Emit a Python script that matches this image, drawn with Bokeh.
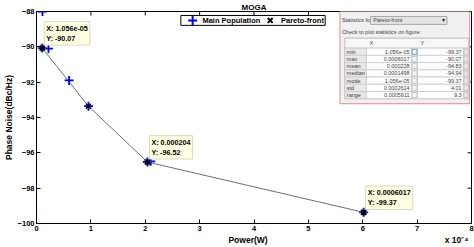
import numpy as np
from bokeh.plotting import figure
from bokeh.models import Label, BoxAnnotation, FixedTicker, Range1d
from bokeh.embed import file_html
from bokeh.resources import INLINE

# Final population of the optimiser: power (W) and phase noise (dBc/Hz)
pop_power = [1.1e-05, 1.056e-05, 2.2e-05, 6.0e-05, 9.56e-05, 2.04e-04, 2.1e-04, 6.017e-04]
pop_noise = [-88.0, -90.07, -90.1, -91.9, -93.36, -96.52, -96.48, -99.37]

# Non-dominated (Pareto-front) solutions
pareto_power = [1.056e-05, 9.56e-05, 2.04e-04, 6.017e-04]
pareto_noise = [-90.07, -93.36, -96.52, -99.37]

# Pareto points that carry a data tip
tip_index = [0, 2, 3]

# Axis ticks (power axis shown in units of 1e-4 W)
x_ticks = [0, 1, 2, 3, 4, 5, 6, 7, 8]
y_ticks = [-100, -98, -96, -94, -92, -90, -88]
x_scale = 1e4

# Statistics panel for the Pareto-front
stat_names = ["min", "max", "mean", "median", "mode", "std", "range"]
stat_x = ["1.056e-05", "0.0006017", "0.000228", "0.0001498", "1.056e-05", "0.0002614", "0.0005911"]
stat_y = ["-99.37", "-90.07", "-94.83", "-94.94", "-99.37", "4.01", "9.3"]

FONT = "Liberation Sans"
W, H = 474, 247

# frame geometry in page pixels (used to place the overlay widgets)
FL, FR, FT, FB = 28, 471, 11, 225
XMIN, XMAX, YMIN, YMAX = 0, 8, -100, -88
TICK = 4  # inward tick length, px


def dx(px):
    return XMIN + (px - FL) / (FR - FL) * (XMAX - XMIN)


def dy(py):
    return YMAX - (py - FT) / (FB - FT) * (YMAX - YMIN)


p = figure(width=W, height=H, output_backend="svg", toolbar_location=None,
           x_range=Range1d(XMIN, XMAX), y_range=Range1d(YMIN, YMAX),
           min_border_left=FL, min_border_right=W - FR,
           min_border_top=FT, min_border_bottom=H - FB)
p.xgrid.visible = False
p.ygrid.visible = False
p.outline_line_color = "black"
p.outline_line_width = 1
p.background_fill_color = "white"
p.border_fill_color = "white"

p.title.text = "MOGA"
p.title.align = "center"
p.title.text_font = FONT
p.title.text_font_style = "bold"
p.title.text_font_size = "8px"
p.title.text_color = "black"
p.title.standoff = 0
p.title.offset = 0

# x label shares its line with the axis exponent at the right end;
# non-breaking spaces keep "Power(W)" centred under the axis
NB = "\u00a0"
x_label = NB * 80 + "Power(W)" + NB * 75 + "x 10\u207b\u2074"

for ax, ticks, lab in ((p.xaxis[0], x_ticks, x_label),
                       (p.yaxis[0], y_ticks, "Phase Noise(dBc/Hz)")):
    ax.ticker = FixedTicker(ticks=ticks)
    ax.minor_tick_line_color = None
    ax.major_tick_in = TICK
    ax.major_tick_out = 0
    ax.axis_line_color = "black"
    ax.major_tick_line_color = "black"
    ax.major_label_text_font = FONT
    ax.major_label_text_font_style = "bold"
    ax.major_label_text_font_size = "7.5px"
    ax.major_label_text_color = "black"
    ax.major_label_standoff = 2
    ax.axis_label = lab
    ax.axis_label_text_font = FONT
    ax.axis_label_text_font_style = "bold"
    ax.axis_label_text_font_size = "8.5px"
    ax.axis_label_text_color = "black"
    ax.axis_label_standoff = 1

# inward ticks on the top and right edges of the box
tx = TICK * (XMAX - XMIN) / (FR - FL)
ty = TICK * (YMAX - YMIN) / (FB - FT)
p.segment(x0=x_ticks, y0=[YMAX] * len(x_ticks), x1=x_ticks, y1=[YMAX - ty] * len(x_ticks),
          line_color="black", line_width=1)
p.segment(x0=[XMAX] * len(y_ticks), y0=y_ticks, x1=[XMAX - tx] * len(y_ticks), y1=y_ticks,
          line_color="black", line_width=1)

# Pareto-front curve and points
px_pareto = [v * x_scale for v in pareto_power]
px_pop = [v * x_scale for v in pop_power]
p.line(px_pareto, pareto_noise, line_color="#6e6e6e", line_width=1)
p.scatter(px_pop, pop_noise, marker="cross", size=9, line_color="#0000ff", line_width=1.8)
p.scatter(px_pareto, pareto_noise, marker="x", size=7, line_color="black", line_width=1.6)

# data tips
tip_x = [px_pareto[i] for i in tip_index]
tip_y = [pareto_noise[i] for i in tip_index]
p.scatter(tip_x, tip_y, marker="circle", size=7, fill_color=None,
          line_color="#5a6aa0", line_width=1, line_dash="1 1")
p.scatter(tip_x, tip_y, marker="square", size=4, fill_color="black", line_color="black")
for i in tip_index:
    txt = "X: %.4g\nY: %.4g" % (pareto_power[i], pareto_noise[i])
    p.add_layout(Label(x=px_pareto[i], y=pareto_noise[i], x_offset=2, y_offset=3,
                       text=txt, text_align="left", text_baseline="bottom",
                       text_font=FONT, text_font_style="bold", text_font_size="7.2px",
                       text_color="black", text_line_height=1.15,
                       background_fill_color="#ffffe1", background_fill_alpha=1,
                       border_line_color="#d8d8c0", border_line_width=1, padding=2))

# legend
p.add_layout(BoxAnnotation(left=dx(175), right=dx(322), top=dy(15), bottom=dy(25),
                           fill_color="white", fill_alpha=1, line_color="black",
                           line_width=1, line_alpha=1))
p.scatter([dx(187)], [dy(20)], marker="cross", size=9, line_color="#0000ff",
          line_width=2, level="overlay")
p.scatter([dx(266)], [dy(20)], marker="x", size=7, line_color="black",
          line_width=2, level="overlay")
for lx, lt in ((197, "Main Population"), (277, "Pareto-front")):
    p.add_layout(Label(x=dx(lx), y=dy(20.5), text=lt, text_align="left",
                       text_baseline="middle", text_font=FONT, text_font_style="bold",
                       text_font_size="7.5px", text_color="black"))


# statistics panel
def box(l, r, t, b, fill, line, lw=1):
    p.add_layout(BoxAnnotation(left=dx(l), right=dx(r), top=dy(t), bottom=dy(b),
                               fill_color=fill, fill_alpha=1, line_color=line,
                               line_alpha=1, line_width=lw))


def small(xp, yp, txt, align="left", color="#404040", size="5.5px"):
    p.add_layout(Label(x=dx(xp), y=dy(yp), text=txt, text_align=align,
                       text_baseline="middle", text_font=FONT,
                       text_font_size=size, text_color=color))


box(337, 469, 11, 104, "#f0f0f0", "#e8a0a0", 1.2)
small(339, 19.5, "Statistics for")
box(368, 446, 16, 24, "#e4e4e4", "#a8a8a8")
small(371, 19.5, "Pareto-front")
small(441, 19.5, "▾", color="#202020", size="6px")
small(339, 32, "Check to plot statistics on figure:")
box(342, 468, 38, 99, "white", "#b8b8b8")
box(342, 468, 38, 48, "#f7f7f7", "#c8c8c8")
small(367, 43, "X")
small(419, 43, "Y")

cols = [(342, 364), (364, 410), (410, 416), (416, 463), (463, 468)]
row_h = (99 - 48) / len(stat_names)
for k, name in enumerate(stat_names):
    t = 48 + k * row_h
    b = t + row_h
    c = (t + b) / 2
    fills = ["#e8e8e8", "white", "white", "white", "#e0e0e0"]
    for (l, r), f in zip(cols, fills):
        box(l, r, t, b, f, "#c8c8c8", 0.8)
    chk_line = "#6080b0" if k == 0 else "#c0c0c0"
    box(410.5, 415.5, c - 2.5, c + 2.5, "#f4f4f4", chk_line, 0.8)
    box(463.5, 467.5, c - 2.5, c + 2.5, "#e8e8e8", "#c8c8c8", 0.8)
    small(344, c, name)
    small(408, c, stat_x[k], align="right")
    small(461, c, stat_y[k], align="right")

open("out.html", "w").write(file_html(p, INLINE))
